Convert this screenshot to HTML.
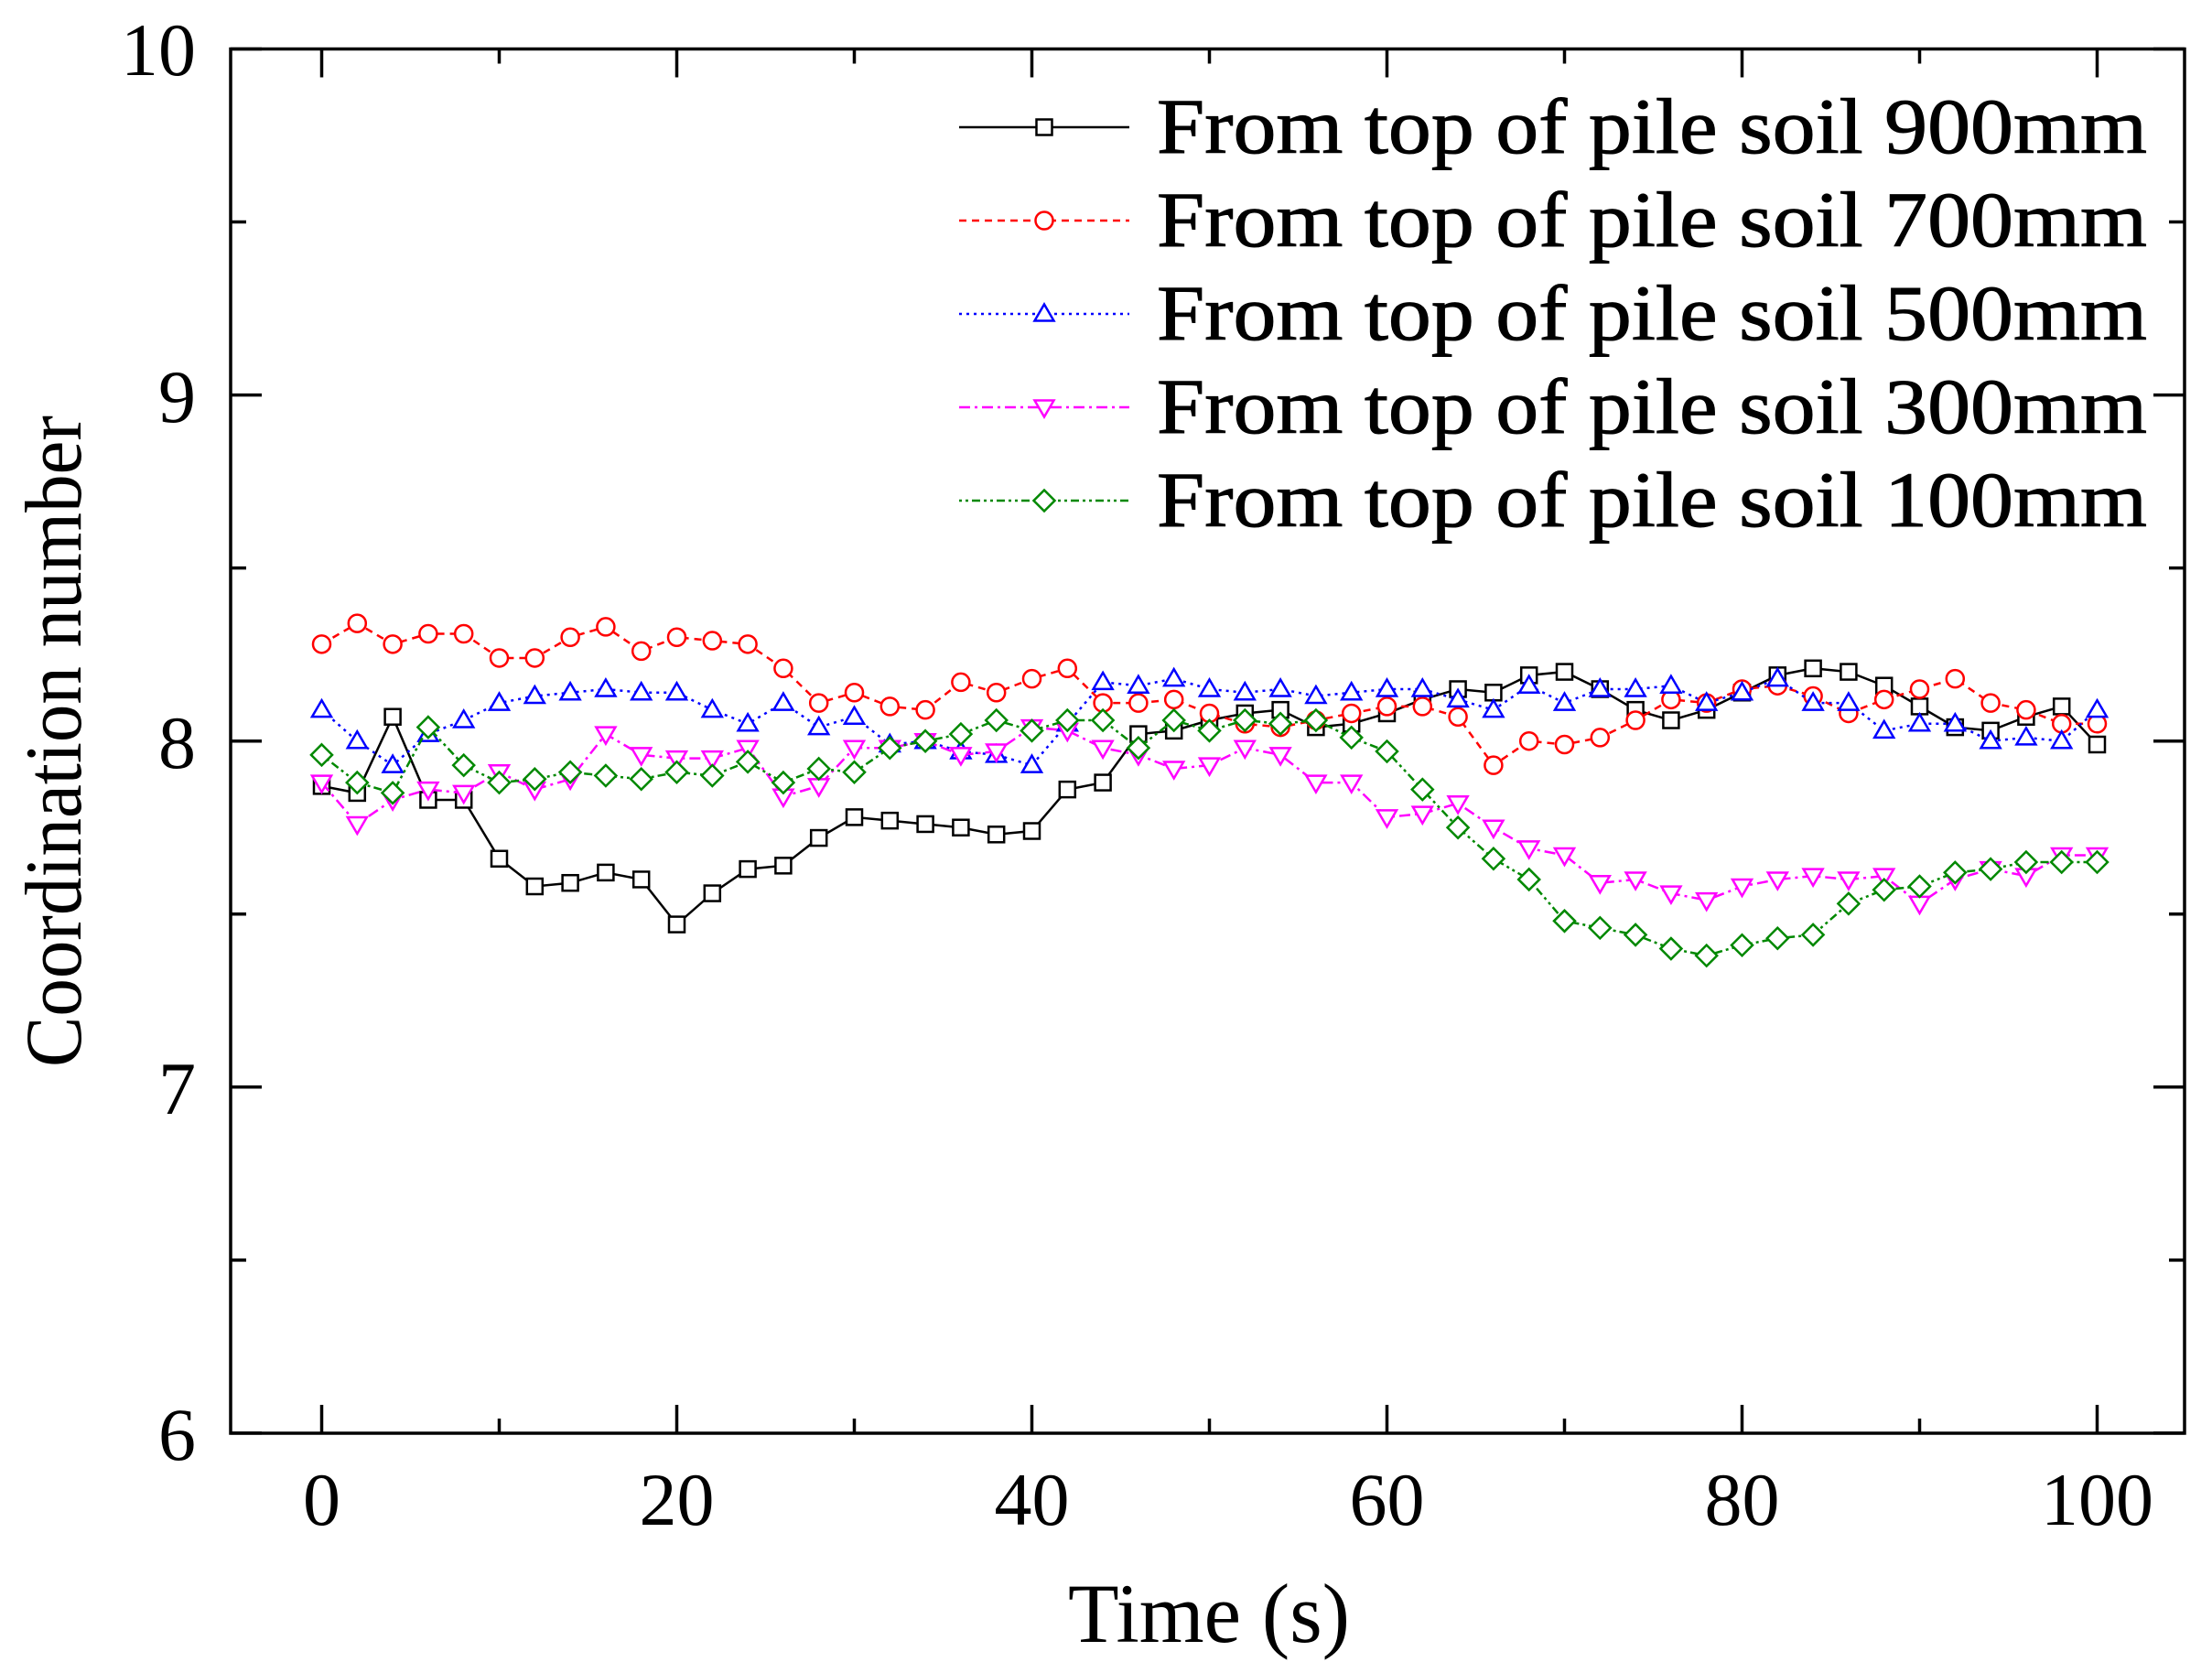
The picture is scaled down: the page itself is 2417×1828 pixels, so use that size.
<!DOCTYPE html>
<html><head><meta charset="utf-8"><style>
html,body{margin:0;padding:0;background:#fff}
svg{display:block}
text{font-family:"Liberation Serif",serif;fill:#000}
</style></head><body>
<svg id="s" width="2417" height="1828" viewBox="0 0 2417 1828" xmlns="http://www.w3.org/2000/svg">
<rect width="2417" height="1828" fill="#fff"/>
<g id="plot"></g>
<rect x="252" y="53.5" width="2135" height="1512.5" fill="none" stroke="#000" stroke-width="3.5"/>
<g id="ticks" stroke="#000" stroke-width="3.5"></g>
<g font-size="82" text-anchor="end">
<text x="214" y="82">10</text>
<text x="214" y="461">9</text>
<text x="214" y="839">8</text>
<text x="214" y="1217">7</text>
<text x="214" y="1595">6</text>
</g>
<g font-size="82" text-anchor="middle">
<text x="351.5" y="1666">0</text>
<text x="739.5" y="1666">20</text>
<text x="1127.5" y="1666">40</text>
<text x="1515.5" y="1666">60</text>
<text x="1903.5" y="1666">80</text>
<text x="2291.5" y="1666">100</text>
</g>
<text x="1321" y="1794" font-size="92" text-anchor="middle" textLength="308" lengthAdjust="spacingAndGlyphs">Time (s)</text>
<text transform="translate(88,810) rotate(-90)" font-size="88" text-anchor="middle" textLength="712" lengthAdjust="spacingAndGlyphs">Coordination number</text>
<g id="legend"></g>
</svg>
<script>
const X=t=>351.5+t*19.4, Y=v=>53.5+(10-v)*378.1;
const series=[
{c:"#000",d:"none",m:"sq",v:[7.87,7.85,8.07,7.83,7.83,7.66,7.58,7.59,7.62,7.60,7.47,7.56,7.63,7.64,7.72,7.78,7.77,7.76,7.75,7.73,7.74,7.86,7.88,8.02,8.03,8.06,8.08,8.09,8.04,8.05,8.08,8.12,8.15,8.14,8.19,8.20,8.15,8.09,8.06,8.09,8.14,8.19,8.21,8.20,8.16,8.10,8.04,8.03,8.07,8.10,7.99]},
{c:"#f00",d:"8 6",m:"ci",v:[8.28,8.34,8.28,8.31,8.31,8.24,8.24,8.30,8.33,8.26,8.30,8.29,8.28,8.21,8.11,8.14,8.10,8.09,8.17,8.14,8.18,8.21,8.11,8.11,8.12,8.08,8.05,8.04,8.06,8.08,8.10,8.10,8.07,7.93,8.00,7.99,8.01,8.06,8.12,8.11,8.15,8.16,8.13,8.08,8.12,8.15,8.18,8.11,8.09,8.05,8.05]},
{c:"#00f",d:"3 5",m:"tu",v:[8.09,8.00,7.93,8.02,8.06,8.11,8.13,8.14,8.15,8.14,8.14,8.09,8.05,8.11,8.04,8.07,7.99,8.00,7.97,7.96,7.93,8.05,8.17,8.16,8.18,8.15,8.14,8.15,8.13,8.14,8.15,8.15,8.12,8.09,8.16,8.11,8.15,8.15,8.16,8.11,8.14,8.18,8.11,8.11,8.03,8.05,8.05,8.00,8.01,8.00,8.09]},
{c:"#f0f",d:"12 5 3 5",m:"td",v:[7.88,7.76,7.83,7.86,7.85,7.91,7.86,7.89,8.02,7.96,7.95,7.95,7.98,7.84,7.87,7.98,7.98,8.00,7.96,7.97,8.04,8.03,7.98,7.96,7.92,7.93,7.98,7.96,7.88,7.88,7.78,7.79,7.82,7.75,7.69,7.67,7.59,7.60,7.56,7.54,7.58,7.60,7.61,7.60,7.61,7.53,7.60,7.63,7.61,7.67,7.67]},
{c:"#080",d:"3 4 3 4 9 4",m:"di",v:[7.96,7.88,7.85,8.04,7.93,7.88,7.89,7.91,7.90,7.89,7.91,7.90,7.94,7.88,7.92,7.91,7.98,8.00,8.02,8.06,8.03,8.06,8.06,7.98,8.06,8.03,8.06,8.05,8.06,8.01,7.97,7.86,7.75,7.66,7.60,7.48,7.46,7.44,7.40,7.38,7.41,7.43,7.44,7.53,7.57,7.58,7.62,7.63,7.65,7.65,7.65]}
];
const r=9.5;
function marker(m,x,y,c){
 const a=`fill="#fff" stroke="${c}" stroke-width="2.5"`;
 if(m=="sq")return `<rect x="${x-r+1}" y="${y-r+1}" width="${2*r-2}" height="${2*r-2}" ${a}/>`;
 if(m=="ci")return `<circle cx="${x}" cy="${y}" r="${r}" ${a}/>`;
 if(m=="tu")return `<polygon points="${x},${y-r-1} ${x+r+1},${y+r-2} ${x-r-1},${y+r-2}" ${a}/>`;
 if(m=="td")return `<polygon points="${x},${y+r+1} ${x+r+1},${y-r+2} ${x-r-1},${y-r+2}" ${a}/>`;
 return `<polygon points="${x},${y-r-2} ${x+r+2},${y} ${x},${y+r+2} ${x-r-2},${y}" ${a}/>`;
}
let h="";
series.forEach(s=>{
 const pts=s.v.map((v,i)=>[X(i*2),Y(v)]);
 h+=`<polyline fill="none" stroke="${s.c}" stroke-width="2.5" ${s.d!="none"?`stroke-dasharray="${s.d}"`:""} points="${pts.map(p=>p.join(",")).join(" ")}"/>`;
 pts.forEach(p=>h+=marker(s.m,p[0],p[1],s.c));
});
document.getElementById("plot").innerHTML=h;
let t="";
for(let i=0;i<=10;i++){const x=X(i*10),L=i%2==0?31:16;
 t+=`<line x1="${x}" y1="1566" x2="${x}" y2="${1566-L}"/><line x1="${x}" y1="53.5" x2="${x}" y2="${53.5+L}"/>`;}
for(let i=0;i<=8;i++){const y=Y(6+i*0.5),L=i%2==0?34:17;
 t+=`<line x1="252" y1="${y}" x2="${252+L}" y2="${y}"/><line x1="2387" y1="${y}" x2="${2387-L}" y2="${y}"/>`;}
document.getElementById("ticks").innerHTML=t;
const labs=["900","700","500","300","100"];let g="";
labs.forEach((l,i)=>{const y=139+i*102,s=series[i];
 g+=`<line x1="1048" y1="${y}" x2="1234" y2="${y}" stroke="${s.c}" stroke-width="2.5" ${s.d!="none"?`stroke-dasharray="${s.d}"`:""}/>`+marker(s.m,1141,y,s.c);
 g+=`<text x="1264" y="${y+28}" font-size="86" stroke="#000" stroke-width="1" textLength="1082" lengthAdjust="spacingAndGlyphs">From top of pile soil ${l}mm</text>`;});
document.getElementById("legend").innerHTML=g;
</script>
</body></html>
